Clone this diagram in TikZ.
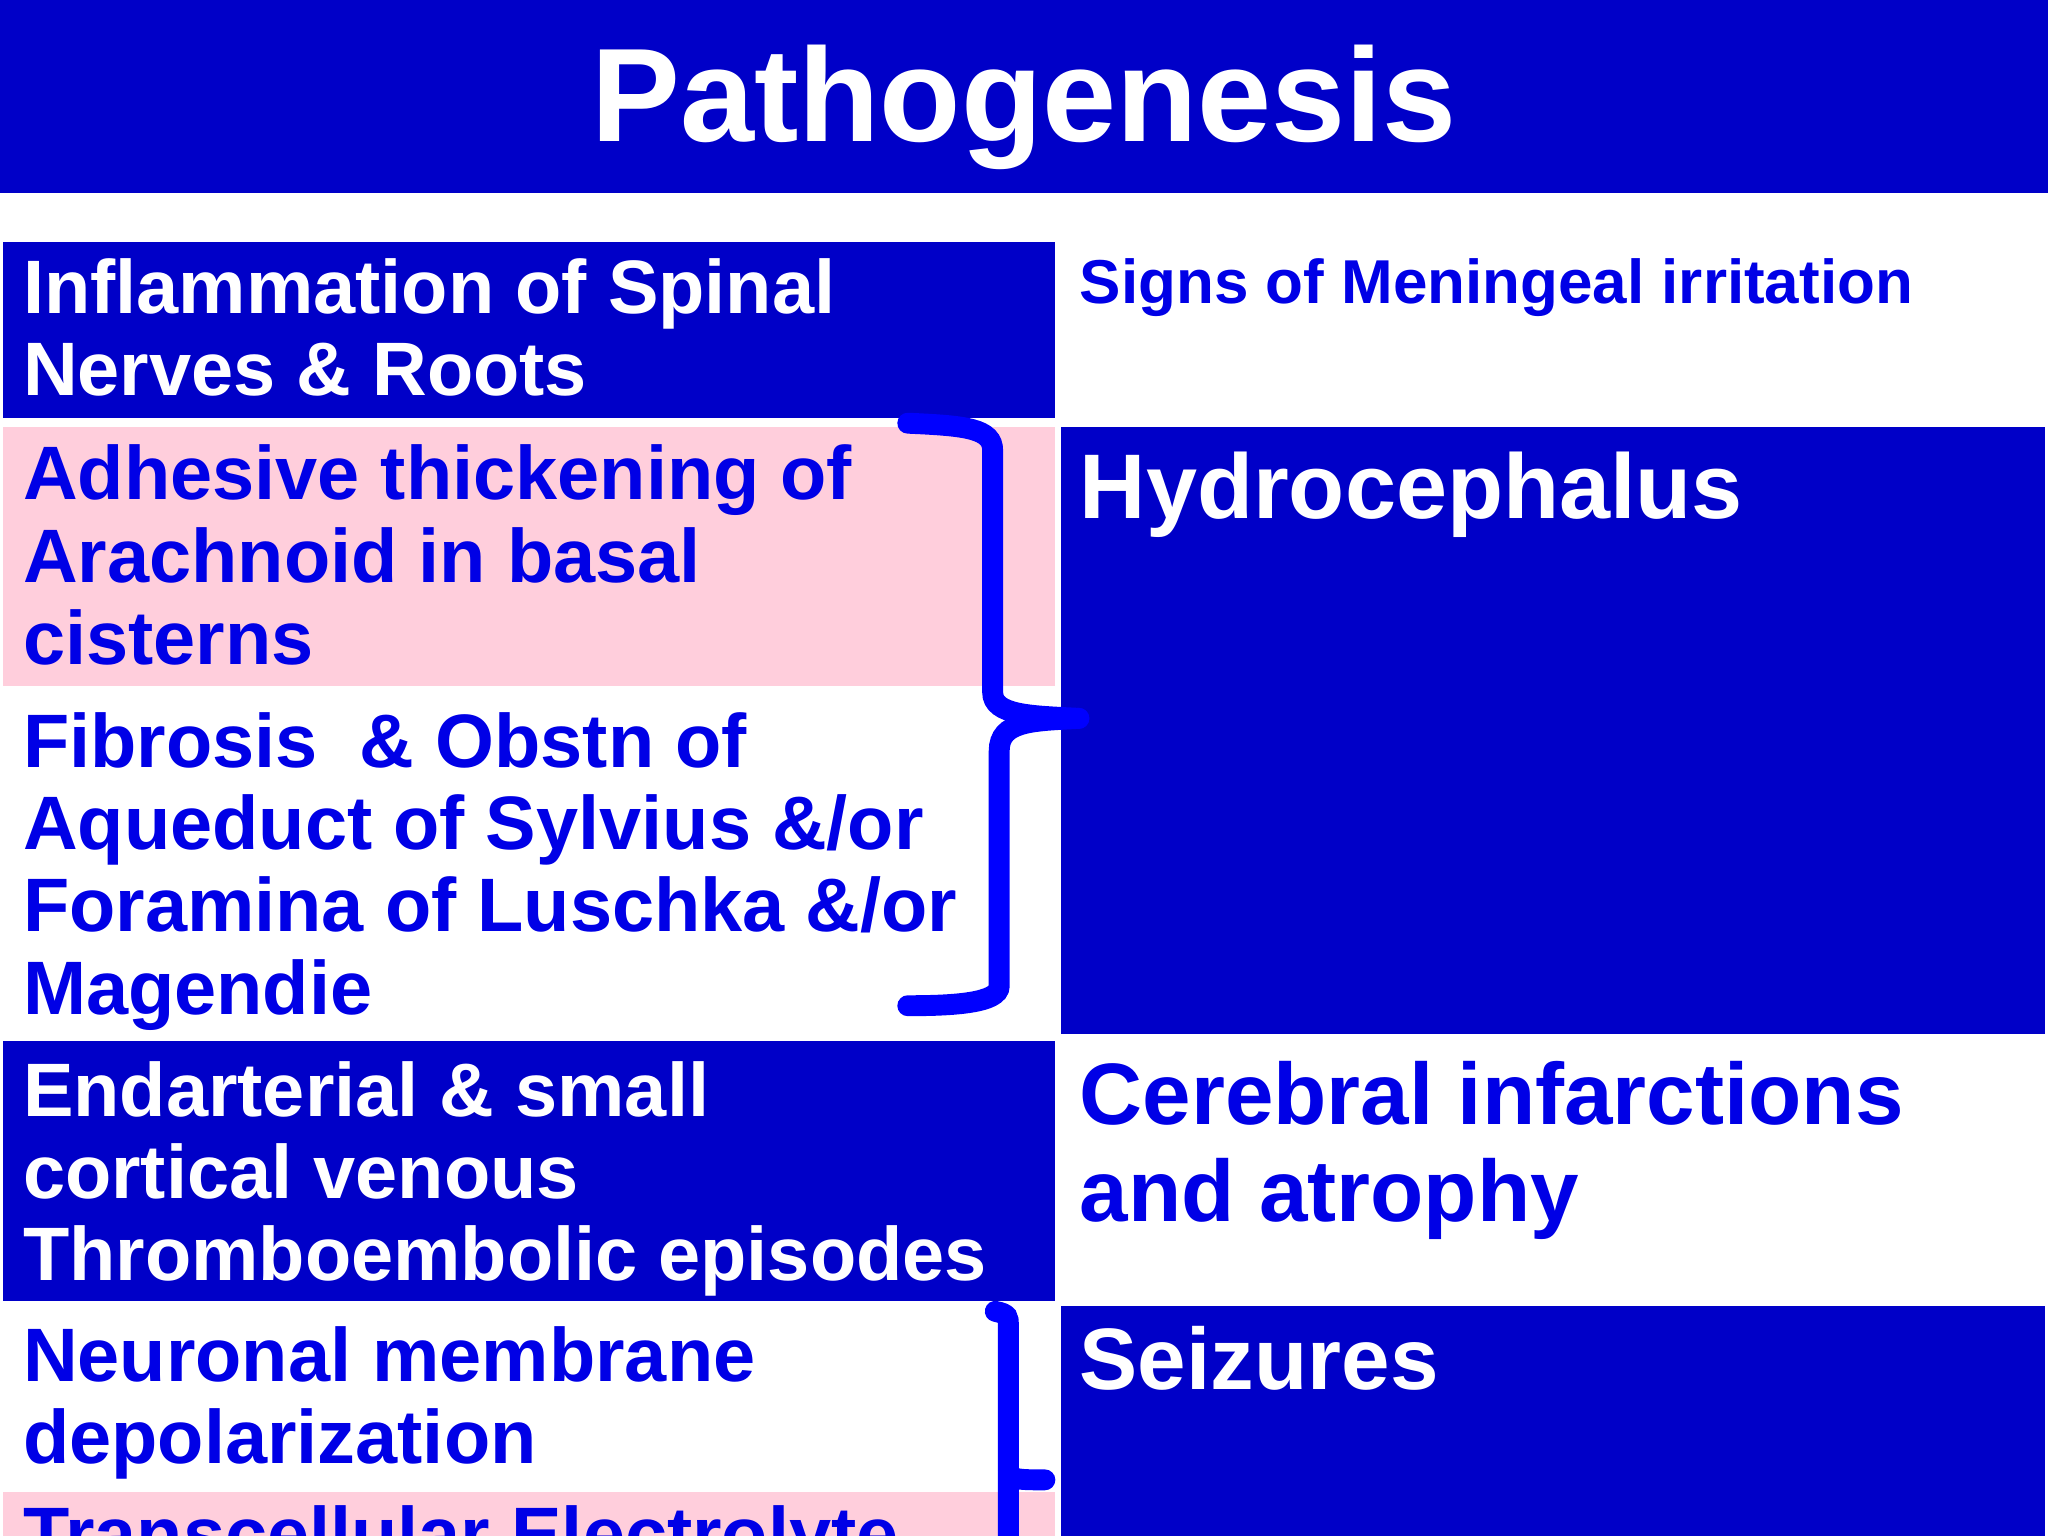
\documentclass[tikz,border=0pt]{standalone}
\usepackage{fontspec}
\setmainfont{Liberation Sans}
\definecolor{dblue}{RGB}{0,0,200}
\definecolor{tblue}{RGB}{0,0,230}
\definecolor{pinkc}{RGB}{255,206,220}
\begin{document}
\begin{tikzpicture}[x=0.1mm,y=-0.1mm,
  lt/.style={anchor=north west,align=left,inner sep=0pt,font=\bfseries\fontsize{16.5pt}{17.9pt}\selectfont},
  bt/.style={lt,text=tblue},
  wt/.style={lt,text=white},
  brk/.style={draw=blue,line width=1.6mm,line cap=round}]
\useasboundingbox (0,0) rectangle (1568,1176);
\fill[dblue] (0,0) rectangle (1568,148);
\node[text=white,font=\bfseries\fontsize{29pt}{30pt}\selectfont] (title) at (784,82) {Pathogenesis};
\fill[dblue] (2,185) rectangle (808,320);
\node[wt] (a) at (17,197) {Inflammation of Spinal\\Nerves \& Roots};
\node[bt,font=\bfseries\fontsize{13.5pt}{14pt}\selectfont] (s) at (826,197) {Signs of Meningeal irritation};
\fill[pinkc] (2,327) rectangle (808,525);
\node[bt] (b) at (17,340) {Adhesive thickening of\\Arachnoid in basal\\cisterns};
\node[bt] (c) at (17,545) {Fibrosis\ \ \& Obstn of\\Aqueduct of Sylvius \&/or\\Foramina of Luschka \&/or\\Magendie};
\fill[dblue] (812,327) rectangle (1566,792);
\node[wt,font=\bfseries\fontsize{20pt}{21pt}\selectfont] (h) at (826,345) {Hydrocephalus};
\coordinate (m) at (826,550);
\draw[brk] (695,324) .. controls (740,326) and (760,328) .. (760,345) -- (760,530) .. controls (760,548) and (790,548) .. (m);
\draw[brk] (m) .. controls (790,552) and (765,552) .. (765,575) -- (765,755) .. controls (765,768) and (730,770) .. (695,770);
\fill[dblue] (2,797) rectangle (808,996);
\node[wt] (d) at (17,812) {Endarterial \& small\\cortical venous\\Thromboembolic episodes};
\node[bt,font=\bfseries\fontsize{19pt}{21pt}\selectfont] (e) at (826,812) {Cerebral infarctions\\and atrophy};
\fill[dblue] (812,1000) rectangle (1566,1176);
\node[wt,font=\bfseries\fontsize{19pt}{21pt}\selectfont] (f) at (826,1015) {Seizures};
\node[bt] (g) at (17,1015) {Neuronal membrane\\depolarization};
\begin{scope}
\clip (0,1142) rectangle (1568,1176);
\fill[pinkc] (2,1142) rectangle (808,1176);
\node[bt] (k) at (17,1152) {Transcellular Electrolyte};
\end{scope}
\coordinate (n) at (800,1133);
\draw[brk] (762,1004) .. controls (772,1006) and (772,1008) .. (772,1015) -- (772,1176);
\draw[brk] (772,1125) .. controls (772,1133) and (780,1133) .. (n);
\end{tikzpicture}
\end{document}
